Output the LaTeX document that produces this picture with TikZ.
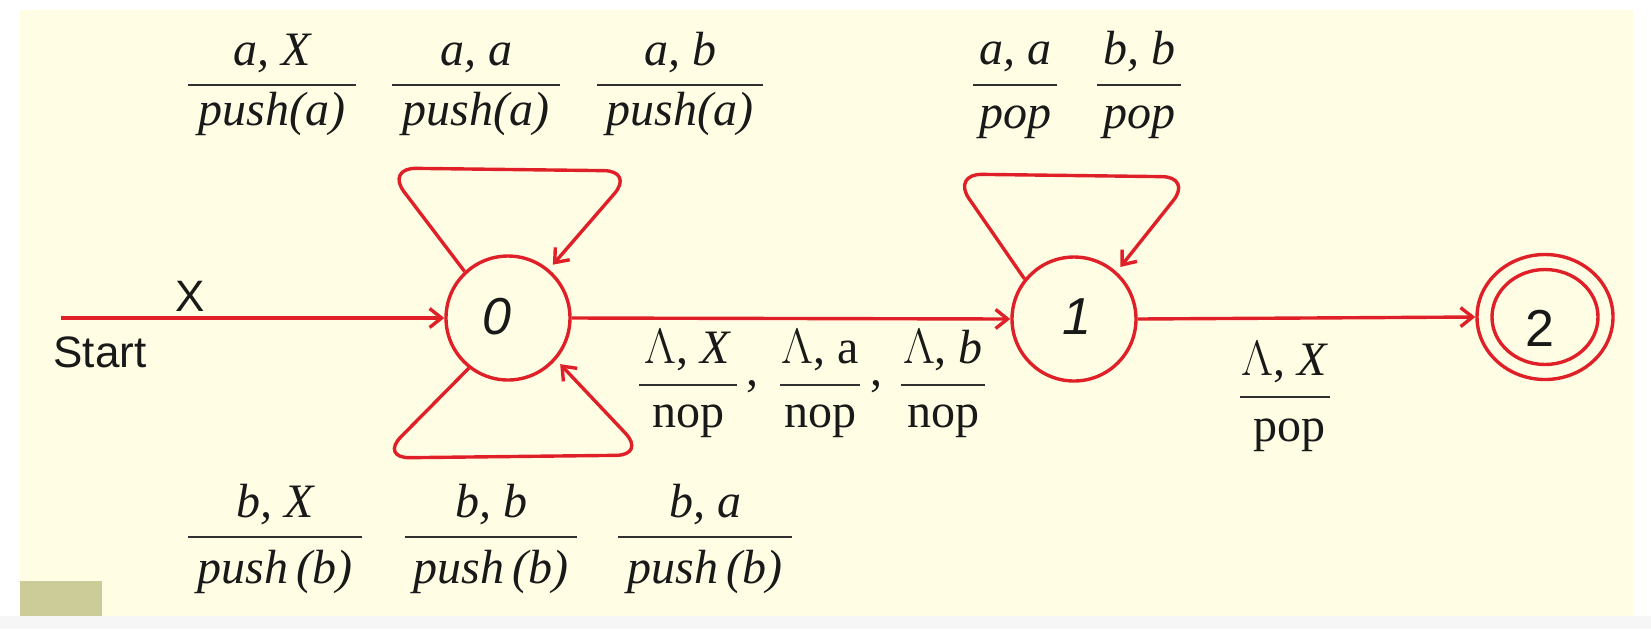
\documentclass[tikz,border=0pt]{standalone}
\usepackage{fontspec}
\setmainfont{Liberation Serif}
\newfontfamily\arialf{Liberation Sans}
\usetikzlibrary{arrows.meta,calc,shapes.geometric}

\definecolor{bgyellow}{RGB}{255,254,228}
\definecolor{boxolive}{RGB}{204,204,153}
\definecolor{edgered}{RGB}{224,32,40}
\definecolor{ink}{RGB}{25,25,25}
\definecolor{stripgray}{RGB}{246,246,246}

\tikzset{
  state/.style={circle, draw=edgered, line width=1.7pt, minimum size=62pt, inner sep=0pt},
  finalout/.style={ellipse, draw=edgered, line width=1.7pt, minimum width=68pt, minimum height=62.5pt, inner sep=0pt},
  finalin/.style={ellipse, draw=edgered, line width=1.7pt, minimum width=53pt, minimum height=47.5pt, inner sep=0pt},
  edge/.style={draw=edgered, line width=1.7pt, -{Straight Barb[length=6pt,width=9.5pt]}},
  loopedge/.style={edge, rounded corners=15pt, shorten >=3pt},
  lbl/.style={anchor=base, inner sep=0pt, text=ink, font=\fontsize{24}{28}\selectfont},
  sanslbl/.style={inner sep=0pt, text=ink, font=\arialf\fontsize{22}{26}\selectfont},
  statelbl/.style={inner sep=0pt, text=ink, font=\arialf\fontsize{26}{30}\selectfont},
  fracrule/.style={draw=ink!90, line width=1.4pt},
}

% name, x, y (rule), half width, numerator offset, denominator offset, numerator, denominator
\newcommand\fracat[8]{%
  \coordinate (#1) at (#2,#3);
  \node[lbl] (#1n) at ($(#1)+(0,-#5)$) {#7};
  \node[lbl] (#1d) at ($(#1)+(0,#6)$) {#8};
  \draw[fracrule] ($(#1)+(-#4,0)$) -- ($(#1)+(#4,0)$);
}

\begin{document}
\begin{tikzpicture}[x=0.5pt,y=-0.5pt]
\useasboundingbox (0,0) rectangle (1651,629);
\fill[white] (0,0) rectangle (1651,629);
\fill[stripgray] (0,616) rectangle (1651,629);
\fill[bgyellow] (20,10) rectangle (1633,616);
\fill[boxolive] (20,581) rectangle (102,616);

% states
\node[state] (s0) at (508,318) {};
\node[state] (s1) at (1074,319) {};
\node[finalout] (s2) at (1545,317) {};
\node[finalin] (s2i) at (1545,317) {};
\node[statelbl] (t0) at (497,317) {\itshape 0};
\node[statelbl] (t1) at (1077,317) {\itshape 1};
\node[statelbl] (t2) at (1540,328) {2};

% start
\coordinate (startpt) at (61,318);
\node[sanslbl] (startlbl) at (100,352) {Start};
\node[sanslbl] (xlbl) at (190,296) {X};
\draw[edge] (startpt) -- (s0.west);

% transitions
\draw[edge] (s0.east) -- (s1.west);
\draw[edge] (s1.east) -- (s2.west);

% loops
\draw[loopedge] (s0.133) -- (386,168) -- (634,171) -- (s0.50);
\draw[loopedge] (s0.-128) -- (380,458) -- (646,455) -- (s0.-41);
\draw[loopedge] (s1.141) -- (952,174) -- (1192,177) -- (s1.48);

% labels above state 0
\fracat{fa}{272}{85}{84}{20}{40}{\itshape a, X}{\itshape push(a)}
\fracat{fb}{476}{85}{84}{20}{40}{\itshape a, a}{\itshape push(a)}
\fracat{fc}{680}{85}{83}{20}{40}{\itshape a, b}{\itshape push(a)}
% labels below state 0
\fracat{fd}{275}{537}{87}{20}{46}{\itshape b, X}{\itshape push\,(b)}
\fracat{fe}{491}{537}{86}{20}{46}{\itshape b, b}{\itshape push\,(b)}
\fracat{ff}{705}{537}{87}{20}{46}{\itshape b, a}{\itshape push\,(b)}
% labels above state 1
\fracat{fg}{1015}{85}{42}{21}{43}{\itshape a, a}{\itshape pop}
\fracat{fh}{1139}{85}{42}{21}{43}{\itshape b, b}{\itshape pop}
% label 0 -> 1
\fracat{fi}{688}{385}{49}{22}{42}{$\Lambda$, \textit{X}}{nop}
\node[lbl] (c1) at (752,385) {,};
\fracat{fj}{820}{385}{40}{22}{42}{$\Lambda$, a}{nop}
\node[lbl] (c2) at (876,385) {,};
\fracat{fk}{943}{385}{42}{22}{42}{$\Lambda$, \textit{b}}{nop}
% label 1 -> 2
\fracat{fl}{1285}{397}{45}{22}{44}{$\Lambda$, \textit{X}}{\,pop}
\end{tikzpicture}
\end{document}
